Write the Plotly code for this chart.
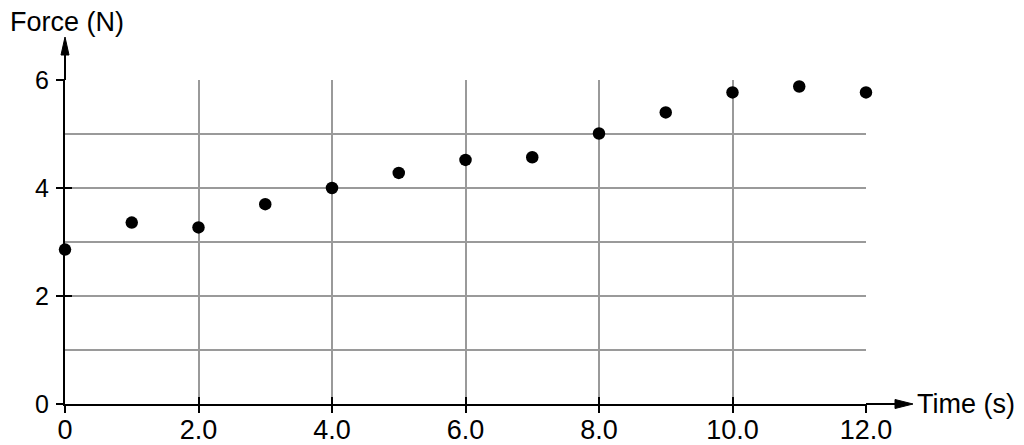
import plotly.graph_objects as go

time_s = [0, 1, 2, 3, 4, 5, 6, 7, 8, 9, 10, 11, 12]
force_n = [2.86, 3.36, 3.27, 3.70, 4.00, 4.28, 4.52, 4.57, 5.01, 5.40, 5.77, 5.88, 5.77]
x_tickvals = [0, 2, 4, 6, 8, 10, 12]
x_ticktext = ["0", "2.0", "4.0", "6.0", "8.0", "10.0", "12.0"]
y_tickvals = [0, 2, 4, 6]
y_ticktext = ["0", "2", "4", "6"]

FONT = "Liberation Sans, Arial, Helvetica, sans-serif"
GRID = "#9a9a9a"
PW, PH = 801, 324  # plot area size in px


def px_x(px):  # page px -> paper x
    return (px - 65) / PW


def px_y(py):  # page px -> paper y
    return (404 - py) / PH


fig = go.Figure()
fig.add_trace(go.Scatter(
    x=time_s, y=force_n, mode="markers",
    marker=dict(size=12.5, color="black"),
    cliponaxis=False, showlegend=False,
))
fig.add_trace(go.Scatter(x=[0], y=[0], xaxis="x2", yaxis="y2",
                         mode="markers", marker=dict(opacity=0), showlegend=False,
                         hoverinfo="skip"))

fig.update_layout(
    width=1008, height=445, autosize=False,
    margin=dict(l=57, r=150, t=72, b=49, pad=0),
    paper_bgcolor="white", plot_bgcolor="white",
    font=dict(family=FONT, size=24, color="black"),
    xaxis=dict(
        range=[0, 12], tickvals=x_tickvals, ticktext=x_ticktext,
        showgrid=True, gridcolor=GRID, gridwidth=1.5,
        zeroline=False, showline=True, linecolor="black", linewidth=2,
        ticks="inside", ticklen=7, tickwidth=1.5, tickcolor="black",
        ticklabelstandoff=1,
        tickfont=dict(size=27), automargin=False, layer="above traces",
    ),
    yaxis=dict(
        range=[0, 6], tickvals=y_tickvals, ticktext=y_ticktext,
        showgrid=True, gridcolor=GRID, gridwidth=1.5,
        minor=dict(dtick=1, tick0=0, showgrid=True, gridcolor=GRID, gridwidth=1.5, ticks=""),
        zeroline=False, showline=True, linecolor="black", linewidth=2,
        ticks="inside", ticklen=7, tickwidth=1.5, tickcolor="black",
        ticklabelstandoff=9,
        tickfont=dict(size=25), automargin=False, layer="above traces",
    ),
    xaxis2=dict(range=[0, 12], overlaying="x", tickvals=x_tickvals, showticklabels=False,
                showgrid=False, zeroline=False, ticks="outside", ticklen=8, tickwidth=1.5,
                tickcolor="black", side="bottom", automargin=False),
    yaxis2=dict(range=[0, 6], overlaying="y", tickvals=y_tickvals, showticklabels=False,
                showgrid=False, zeroline=False, ticks="outside", ticklen=8, tickwidth=1.5,
                tickcolor="black", side="left", automargin=False),
)

# Axis arrows (shafts + narrow filled heads)
fig.add_shape(type="line", xref="paper", yref="paper",
              x0=0, x1=0, y0=1, y1=px_y(52), line=dict(color="black", width=2))
fig.add_shape(type="path", xref="paper", yref="paper",
              path=f"M {px_x(61)} {px_y(55)} L {px_x(65)} {px_y(37)} L {px_x(69)} {px_y(55)} Z",
              fillcolor="black", line=dict(color="black", width=1))
fig.add_shape(type="line", xref="paper", yref="paper",
              x0=1, x1=px_x(898), y0=0, y1=0, line=dict(color="black", width=2))
fig.add_shape(type="path", xref="paper", yref="paper",
              path=f"M {px_x(895)} {px_y(399.5)} L {px_x(913)} {px_y(404)} L {px_x(895)} {px_y(408.5)} Z",
              fillcolor="black", line=dict(color="black", width=1))

# Axis titles
fig.add_annotation(x=px_x(8), y=px_y(22), xref="paper", yref="paper",
                   text="Force (N)", showarrow=False, xanchor="left", yanchor="middle",
                   font=dict(size=27))
fig.add_annotation(x=px_x(915), y=0, xref="paper", yref="paper",
                   text="Time (s)", showarrow=False, xanchor="left", yanchor="middle",
                   font=dict(size=27))

fig.write_html("out.html")
